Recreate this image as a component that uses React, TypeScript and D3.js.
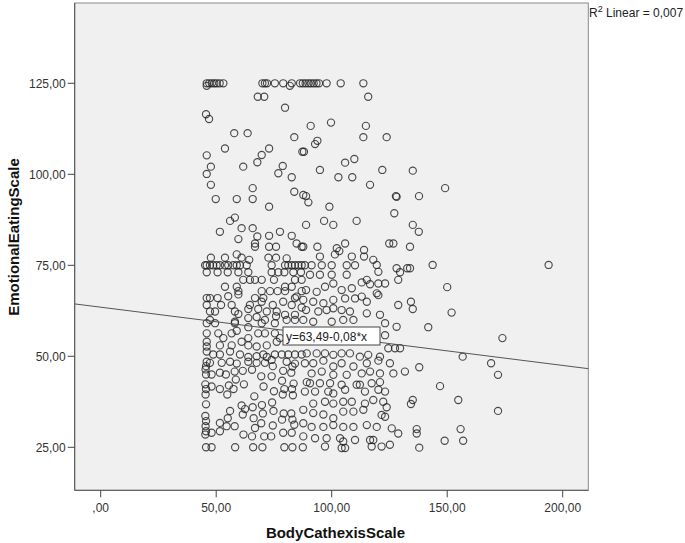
import React, { useMemo } from "react";
import * as d3 from "d3";

// [BodyCathexisScale, EmotionalEatingScale] pairs

// sparse upper part of the cloud (above the 75 band)
const upperPoints: [number, number][] = [
    [45.9, 125], [47, 125], [48.1, 125], [49.2, 125], [50.2, 125], [51.5, 125], [53.1, 125],
    [70, 125], [71.1, 125], [72, 125], [75.4, 125], [79, 125], [82.7, 125], [86.3, 125], [87.5, 125],
    [88.7, 125], [89.9, 125], [91, 125], [92.2, 125], [93.4, 125], [94.5, 125], [97.8, 125], [103.9, 125], [113.7, 125],
    [45.9, 124.3], [81.9, 124.3], [68, 121.3], [70.8, 121.3], [115.8, 121.3], [79.8, 118.3],
    [45.6, 116.5], [46.9, 115.2], [99.7, 114.2], [90.9, 113.3], [114.8, 113.3], [57.8, 111.3], [63.6, 111.3],
    [83.8, 110.2], [113.7, 110.2], [123.8, 110.2], [93.8, 109.2], [92.8, 108.3], [53.8, 107.1], [72.9, 107.1],
    [87.3, 106.2], [88, 106.2], [69.7, 105.3], [45.9, 105.2], [109.8, 104.2], [67.8, 103.3], [105.8, 103.2],
    [78.8, 102.3], [47.7, 102.1], [61.7, 102.1], [94.9, 101.2], [121.9, 101.2], [135.1, 101], [76.9, 100.3],
    [45.9, 100.1], [82.7, 99.2], [102.9, 99.2], [108.9, 99.2], [47.7, 97.1], [116.6, 97.1], [65.8, 96.2],
    [149.1, 96.2], [83.8, 95.2], [87.7, 94.3], [88.9, 94], [127.8, 94], [137.8, 94], [128.1, 93.8],
    [49.8, 93.2], [58.9, 93.2], [65.8, 93.2], [89.9, 92.3], [72.9, 91.1], [99, 91.1], [127.1, 89.3],
    [58.1, 88.1], [56, 87.2], [96.7, 87.2], [110.8, 87.2], [61, 85.2], [65.8, 85.2], [88.9, 86.1],
    [100.7, 86.1], [135.1, 86.1], [51.6, 84.2], [77.6, 84.2], [137.7, 84.2], [67.8, 82.9], [72.9, 83.1],
    [82.7, 83.1], [59.6, 82.2], [66.8, 81], [84.8, 81], [105.8, 81], [124.9, 81], [126.7, 81],
    [66.8, 80.1], [72.9, 80.1], [75.9, 80.1], [87, 80.1], [87.7, 80.1], [93.8, 80.1], [133.9, 80.1],
    [102.2, 79.7], [114, 79.2], [103.3, 78.9], [58.9, 78], [101.4, 78], [61, 77.1], [47.7, 77.1],
    [53.8, 77.1], [72.6, 77.1], [75.9, 77.1], [80.5, 76.9], [94.9, 77.4], [108.7, 77.4], [114, 77.4],
    [64.3, 76.5], [118, 76.5],
];

// the crowded band around 75
const band75Points: [number, number][] = [
    [45.2, 75], [45.9, 75], [47.3, 75], [48.7, 75], [50.2, 75], [51.6, 75], [53.8, 75], [55.2, 75],
    [57.4, 75], [58.9, 75], [60.3, 75], [63.2, 75], [74, 75], [79.8, 75], [81.2, 75], [82.7, 75],
    [84.1, 75], [85.6, 75], [87, 75], [88.4, 75], [91.3, 75], [95.7, 75], [100, 75], [106.5, 75],
    [110.1, 75], [119.5, 75.1], [143.7, 75.1], [193.9, 75.1],
    [128.1, 74.2], [132.7, 74.2], [133.9, 74.2],
    [45.9, 73.1], [50.6, 73.1], [55, 73.1], [59.6, 73.1], [63.9, 73.1], [74, 73.1], [76.9, 73.1],
    [79.5, 73.1], [83.4, 73.1], [86.7, 73.1], [120.2, 73.2], [129.6, 73.1],
    [90.6, 72.4], [94.9, 72.4], [100, 72.4], [106.5, 72.4],
];

// middle of the cloud, 50 to 72
const midPoints: [number, number][] = [
    [61.7, 71], [64.6, 71], [66.8, 71], [69.7, 71], [75, 71], [84.1, 71], [87, 71],
    [113, 70.3], [115.2, 71], [116.6, 69.8], [120.2, 70], [123.1, 70], [128.8, 71],
    [53.8, 69.1], [58.9, 69.1], [79.8, 69.1], [82.7, 69.1], [150, 69],
    [59.6, 67.9], [69.7, 67.9], [73.3, 67.9], [76.6, 67.9], [79.8, 67.9], [87, 67.9], [84.8, 66.4],
    [88.9, 68.2], [93.5, 67.7], [97.1, 69.1], [100.7, 70], [104.3, 68.2], [108.7, 68.7], [119.5, 67.3], [113, 66.4],
    [45.9, 66], [47.3, 66], [50.6, 66], [55.2, 66.5], [59.6, 67], [66.8, 66], [70.4, 66], [84.1, 66],
    [87.7, 65.5], [92, 65], [96.4, 64.6], [100.7, 65.5], [105.8, 65.9], [110.1, 65.9], [115.2, 65],
    [120.2, 66.8], [128.8, 64.1], [134.3, 65], [135.1, 63],
    [45.9, 64.1], [52.1, 64.1], [56.7, 64.1], [64.6, 64.1], [69.7, 65], [74.5, 64.1], [79, 65], [82.7, 64.1], [87, 63.4],
    [47.3, 62.3], [49.5, 62.3], [58.1, 62.3], [59.6, 61.6], [63.9, 63], [68.2, 63], [71.9, 62.3],
    [76.2, 62.3], [79.8, 61.4], [84.1, 61.4],
    [88.9, 62.7], [94.2, 62.3], [97.8, 62.7], [100.7, 63.2], [104.3, 62.7], [107.9, 62.3], [115.2, 61.8],
    [120.9, 61.4], [151.9, 62],
    [47.3, 60], [58.1, 59.5], [63.9, 60.5], [67.5, 60.8], [71.1, 60], [75.9, 61], [80.5, 60], [84.1, 60],
    [87.7, 60], [92, 59.5], [100, 59.5], [105, 60], [109.4, 60],
    [45.9, 59.1], [49.5, 59.1], [58.1, 59.1], [63.9, 58], [69.7, 59.1], [75.4, 59.1], [123.1, 59.1],
    [128.1, 58.1], [141.8, 58],
    [45.9, 56.3], [50.9, 56.3], [53.1, 55], [56.7, 56.3], [58.9, 57], [63.9, 55], [68.2, 56.3],
    [71.1, 56.3], [75.4, 56.3], [77.6, 55], [123.1, 55.8], [173.9, 55],
    [45.9, 54], [51.6, 53], [56.7, 53], [61, 54], [63.9, 53], [67.5, 52.7], [71.9, 53], [76.2, 54],
    [45.9, 52.7], [124.5, 52.2], [127.4, 52.2], [129.6, 52.2],
    [45.9, 51.3], [48.7, 50.5], [51.6, 50.5], [56, 51.3], [60.3, 50.5], [63.9, 49.8], [67.5, 50],
    [70.4, 50.5], [71.9, 49.8], [75.4, 50.5], [78.4, 50.5], [81.2, 50.5], [84.1, 50.5], [87, 50.5],
    [89.2, 50.8], [93.5, 50.8], [97.1, 50.8], [100.7, 50.4], [104.3, 50.8], [107.9, 50.8], [112.2, 49.9],
    [115.8, 50.4], [120.9, 49.9], [156.7, 49.9],
];

// lower-left block, 25 to 49
const lowerLeftPoints: [number, number][] = [
    [45.9, 48.5], [47.3, 48.2], [52.4, 48.2], [56, 48.5], [58.9, 48], [63.9, 48.5], [67.5, 48.2],
    [71.1, 48.2], [74, 49], [80.5, 48.5], [84.1, 48],
    [45.6, 47.3], [45.4, 46.4], [45.6, 45], [45.3, 42.3], [45.6, 41], [45.4, 39.5], [45.6, 36.8],
    [45.3, 33.6], [45.6, 32.2], [45.4, 30.8], [45.6, 29.4], [45.3, 28.5], [45.6, 25],
    [48, 45], [48, 41.7], [48, 29], [48, 25],
    [51.6, 45.5], [51.6, 41], [51.6, 31.7], [51.6, 29.4],
    [54.2, 45], [55.5, 42], [54.8, 39.5], [56, 35], [55, 33], [54.5, 30.8],
    [58, 45.8], [58.5, 43.6], [57.5, 41], [58, 30.8], [58.2, 25],
    [61.5, 46], [62, 42.3], [61, 36.5], [62.5, 35.5], [61.5, 34], [61.8, 28.5],
    [65.5, 46.3], [66.5, 39], [65.8, 36], [66.2, 33], [66.8, 30.3], [65.5, 28], [66, 25],
    [69.5, 44.5], [70.5, 41.7], [69.8, 36.6], [70.2, 34.3], [69.5, 31.6], [70.8, 28], [70, 25],
    [74.5, 47.3], [74, 44.5], [75, 40.4], [74.2, 37.3], [74.8, 35], [74.5, 31], [73.8, 28],
    [79, 46], [78.5, 43.3], [79.5, 41], [78.8, 39.5], [79.2, 34.3], [78.5, 32.6], [79, 29], [79.5, 25],
    [83, 47.2], [82.5, 45.5], [83.5, 42.5], [82.8, 41], [83.2, 39.3], [82.5, 34.3], [83, 32.6],
    [83.8, 31.2], [82.7, 29], [83, 25],
];

// lower-right block, 25 to 49
const lowerRightPoints: [number, number][] = [
    [88.4, 48.1], [92, 48.1], [96.4, 48.8], [100.7, 47.2], [104.3, 48.1], [109.4, 47.2], [115.2, 48.1],
    [120.2, 48.8], [125.2, 48.1], [126.7, 45.3], [131.7, 45.8],
    [91.3, 45.3], [95.7, 45.8], [100.7, 44.9], [106.5, 44.9], [113, 45.3], [116.6, 45.8], [120.9, 45.3],
    [89.2, 42.9], [90.6, 42.6], [94.9, 42.6], [99.3, 42.6], [104.3, 42.2], [110.8, 42.2], [112.2, 42.2],
    [117.3, 42.6], [120.9, 42.9],
    [88.4, 40.3], [92.8, 40.3], [98.5, 40.3], [100.7, 39.8], [105.8, 40.8], [114.4, 40.3], [120.2, 40.8], [123.1, 40.3],
    [92, 37], [97.1, 37.5], [100.7, 37], [105, 37.5], [108.7, 37.5], [114.4, 37], [118, 38], [122.3, 37.5], [123.8, 36],
    [87.7, 35.3], [92, 34.4], [96.4, 34], [100.7, 33], [105, 34.8], [109.4, 34.8], [113.7, 35.3], [121.6, 33.9], [123.1, 33.4],
    [87.7, 31.6], [91.3, 30.6], [96.4, 30.6], [100.7, 31.1], [105, 30.6], [109.4, 30.6], [115.2, 31.1],
    [119.5, 30.6], [126, 30.2], [128.8, 28.8],
    [87.7, 28], [92.8, 27.5], [97.8, 27.5], [103.6, 27.5], [105, 26.6], [110.1, 27], [116.6, 27], [118, 27],
    [87.5, 25], [97.1, 25.2], [104.3, 24.8], [105.8, 24.8], [117.3, 25.2], [121.6, 25.2], [125.2, 25.7],
];

// scattered high cathexis cases
const outlierPoints: [number, number][] = [
    [137.9, 47], [169, 48.1], [172, 44.9], [146.9, 41.8], [135.1, 38], [134.3, 36.9], [154.8, 38],
    [172, 35], [136.8, 30], [136.8, 28.8], [155.8, 30], [148.9, 26.8], [156.9, 26.8], [137.9, 24.9],
];

const xTicks = [0, 50, 100, 150, 200];
const yTicks = [25, 50, 75, 100, 125];

const fitIntercept = 63.49;
const fitSlope = -0.08;
const fitLabel = "y=63,49-0,08*x";
const rSquared = "0,007";

const W = 685;
const H = 543;
const plotLeft = 74.7;
const plotRight = 588.3;
const plotTop = 3;
const plotBottom = 490.3;

const font = "'Liberation Sans', Arial, sans-serif";
const fmt = (v: number) => (v === 0 ? ",00" : d3.format(".2f")(v).replace(".", ","));

export default function App() {
    const x = useMemo(() => d3.scaleLinear([0, 200], [100.7, 562.7]), []);
    const y = useMemo(() => d3.scaleLinear([25, 125], [447.3, 83.3]), []);

    const points = useMemo(
        () => [
            ...upperPoints,
            ...band75Points,
            ...midPoints,
            ...lowerLeftPoints,
            ...lowerRightPoints,
            ...outlierPoints,
        ],
        []
    );

    const fitLine = useMemo(() => {
        const x0 = x.invert(plotLeft);
        const x1 = x.invert(plotRight);
        return d3.line<number>()
            .x((d) => x(d))
            .y((d) => y(fitIntercept + fitSlope * d))([x0, x1]);
    }, [x, y]);

    return (
        <svg
            width={W}
            height={H}
            style={{ position: "absolute", top: 0, left: 0, background: "#fff" }}
            fontFamily={font}
        >
            <rect
                x={plotLeft}
                y={plotTop}
                width={plotRight - plotLeft}
                height={plotBottom - plotTop}
                fill="#f0f0f0"
                stroke="#8a8a8a"
                strokeWidth={1}
            />
            {/* axes lines */}
            <line x1={plotLeft} x2={plotLeft} y1={plotTop} y2={plotBottom} stroke="#555" />
            <line x1={plotLeft} x2={plotRight} y1={plotBottom} y2={plotBottom} stroke="#555" />

            {yTicks.map((t) => (
                <g key={"y" + t} transform={`translate(0,${y(t)})`}>
                    <line x1={plotLeft - 7} x2={plotLeft} stroke="#444" />
                    <text x={plotLeft - 9} dy="0.35em" textAnchor="end" fontSize={12} fill="#333">
                        {fmt(t)}
                    </text>
                </g>
            ))}
            {xTicks.map((t) => (
                <g key={"x" + t} transform={`translate(${x(t)},0)`}>
                    <line y1={plotBottom} y2={plotBottom + 7} stroke="#444" />
                    <text y={511.5} textAnchor="middle" fontSize={12} fill="#333">
                        {fmt(t)}
                    </text>
                </g>
            ))}

            <g>
                {points.map((d, i) => (
                    <circle
                        key={i}
                        cx={x(d[0])}
                        cy={y(d[1])}
                        r={3.6}
                        fill="none"
                        stroke="#222"
                        strokeOpacity={0.8}
                        strokeWidth={1.15}
                    />
                ))}
            </g>

            <path d={fitLine || ""} fill="none" stroke="#555" strokeWidth={1} />

            <rect x={283} y={327} width={97} height={18} fill="#fff" stroke="#444" strokeWidth={1} />
            <text x={286} y={340.5} fontSize={12} fill="#222">
                {fitLabel}
            </text>

            <text x={589} y={16.5} fontSize={12} fill="#222">
                R<tspan fontSize={9} dy={-5}>2</tspan>
                <tspan dy={5}> Linear = {rSquared}</tspan>
            </text>

            <text
                x={(plotLeft + plotRight) / 2 + 4}
                y={538}
                textAnchor="middle"
                fontSize={15}
                fontWeight="bold"
                fill="#111"
            >
                BodyCathexisScale
            </text>
            <text
                transform="translate(19,237) rotate(-90)"
                textAnchor="middle"
                fontSize={15}
                fontWeight="bold"
                fill="#111"
            >
                EmotionalEatingScale
            </text>
        </svg>
    );
}
